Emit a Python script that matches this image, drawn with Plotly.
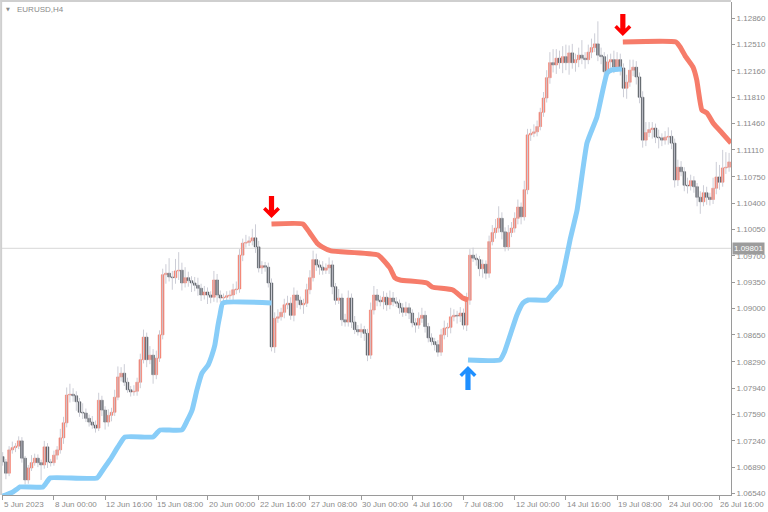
import plotly.graph_objects as go
import pandas as pd
from datetime import datetime

# ---------------- data ----------------
symbol_title = "EURUSD,H4"
first_bar_time = "2023-06-05 08:00"
first_open = 1.0703

closes = [
    1.0696, 1.0681, 1.0712, 1.0715, 1.0717, 1.0724, 1.0701, 1.0672, 1.0688, 1.0695,
    1.0701, 1.0695, 1.0692, 1.0716, 1.0696, 1.0695, 1.0705, 1.0712, 1.0728, 1.0748,
    1.0785, 1.0786, 1.0784, 1.0776, 1.0762, 1.0761, 1.0754, 1.0749, 1.0745, 1.0741,
    1.0778, 1.0765, 1.0749, 1.0758, 1.0762, 1.0782, 1.0809, 1.0814, 1.0802, 1.0792,
    1.0789, 1.0790, 1.0802, 1.0832, 1.0862, 1.0832, 1.0838, 1.0812, 1.0834, 1.0865,
    1.0945, 1.0947, 1.0942, 1.0941, 1.0950, 1.0951, 1.0934, 1.0941, 1.0937, 1.0934,
    1.0931, 1.0927, 1.0918, 1.0922, 1.0918, 1.0915, 1.0938, 1.0918, 1.0914, 1.0915,
    1.0917, 1.0918, 1.0925, 1.0926, 1.0971, 1.0987, 1.0988, 1.0990, 1.0994, 1.0982,
    1.0954, 1.0957, 1.0955, 1.0934, 1.0849, 1.0887, 1.0889, 1.0895, 1.0905, 1.0907,
    1.0891, 1.0918, 1.0911, 1.0905, 1.0907, 1.0925, 1.0941, 1.0965, 1.0958, 1.0955,
    1.0951, 1.0954, 1.0958, 1.0929, 1.0911, 1.0914, 1.0885, 1.0882, 1.0914, 1.0882,
    1.0872, 1.0869, 1.0872, 1.0867, 1.0838, 1.0898, 1.0918, 1.0911, 1.0909, 1.0915,
    1.0905, 1.0914, 1.0909, 1.0907, 1.0901, 1.0895, 1.0901, 1.0894, 1.0881, 1.0878,
    1.0887, 1.0891, 1.0876, 1.0861, 1.0856, 1.0852, 1.0842, 1.0865, 1.0874, 1.0875,
    1.0889, 1.0891, 1.0890, 1.0894, 1.0878, 1.0911, 1.0971, 1.0967, 1.0965, 1.0953,
    1.0959, 1.0947, 1.0989, 1.1001, 1.1007, 1.1020, 1.1002, 1.0982, 1.1001, 1.1007,
    1.1020, 1.1035, 1.1022, 1.1058, 1.1131, 1.1133, 1.1135, 1.1142, 1.1161, 1.1180,
    1.1207, 1.1227, 1.1224, 1.1233, 1.1227, 1.1235, 1.1227, 1.1240, 1.1227, 1.1231,
    1.1237, 1.1233, 1.1231, 1.1241, 1.1247, 1.1252, 1.1237, 1.1235, 1.1215, 1.1228,
    1.1231, 1.1221, 1.1231, 1.1220, 1.1193, 1.1201, 1.1217, 1.1221, 1.1208, 1.1181,
    1.1124, 1.1134, 1.1138, 1.1140, 1.1128, 1.1127, 1.1124, 1.1128, 1.1129, 1.1120,
    1.1071, 1.1088, 1.1082, 1.1064, 1.1063, 1.1070, 1.1062, 1.1048, 1.1042, 1.1054,
    1.1048, 1.1045, 1.1060, 1.1075, 1.1068, 1.1087, 1.1088, 1.1095,
]

# wick lengths above / below the body, in pips
wick_up_pips = [
    6, 4, 5, 8, 4, 6, 5, 3, 4, 10,
    6, 5, 4, 8, 5, 4, 6, 5, 12, 8,
    10, 14, 8, 6, 5, 12, 6, 5, 8, 6,
    10, 6, 5, 8, 6, 10, 14, 8, 12, 6,
    5, 8, 6, 8, 10, 6, 12, 8, 10, 6,
    8, 12, 20, 8, 16, 24, 10, 14, 8, 6,
    8, 10, 6, 8, 6, 5, 12, 8, 6, 5,
    6, 6, 8, 10, 8, 6, 10, 6, 12, 18,
    8, 6, 5, 6, 6, 8, 10, 6, 8, 10,
    8, 10, 6, 5, 6, 8, 10, 12, 8, 6,
    8, 6, 10, 6, 5, 12, 6, 8, 10, 6,
    8, 6, 8, 5, 6, 10, 12, 8, 6, 8,
    6, 10, 8, 6, 5, 6, 8, 6, 5, 6,
    8, 10, 6, 5, 6, 5, 6, 8, 10, 6,
    12, 8, 6, 8, 6, 10, 8, 10, 6, 5,
    6, 5, 8, 10, 12, 16, 8, 6, 10, 8,
    8, 10, 6, 12, 8, 6, 10, 8, 6, 8,
    10, 14, 18, 12, 10, 14, 16, 10, 12, 8,
    10, 20, 8, 10, 12, 14, 30, 10, 6, 10,
    8, 12, 10, 8, 6, 10, 14, 10, 8, 6,
    8, 14, 10, 8, 6, 10, 6, 8, 12, 8,
    6, 10, 8, 6, 10, 8, 6, 5, 8, 10,
    8, 6, 14, 20, 16, 24, 20, 12,
]
wick_dn_pips = [
    5, 8, 4, 5, 6, 4, 6, 6, 5, 4,
    4, 6, 20, 5, 8, 5, 4, 6, 5, 8,
    6, 10, 8, 12, 6, 8, 5, 6, 5, 6,
    4, 8, 10, 6, 8, 5, 4, 6, 5, 4,
    6, 5, 6, 8, 5, 10, 6, 12, 6, 5,
    6, 12, 6, 16, 8, 12, 10, 6, 8, 12,
    8, 10, 8, 6, 12, 8, 6, 10, 6, 5,
    6, 5, 8, 6, 5, 8, 6, 5, 6, 8,
    6, 8, 6, 6, 6, 8, 6, 5, 8, 6,
    6, 8, 10, 6, 12, 5, 6, 5, 8, 10,
    6, 5, 8, 10, 6, 5, 8, 6, 6, 8,
    6, 5, 8, 10, 8, 5, 6, 8, 6, 10,
    8, 6, 6, 5, 8, 6, 5, 8, 6, 10,
    5, 6, 8, 6, 5, 8, 6, 5, 6, 12,
    8, 6, 10, 8, 6, 8, 6, 5, 8, 10,
    12, 8, 6, 5, 8, 6, 10, 6, 5, 6,
    6, 8, 10, 5, 6, 8, 5, 6, 5, 6,
    6, 8, 10, 12, 8, 14, 10, 16, 8, 12,
    10, 8, 12, 6, 8, 6, 8, 10, 16, 8,
    10, 8, 6, 10, 12, 14, 6, 8, 10, 8,
    10, 8, 6, 12, 8, 14, 8, 6, 10, 8,
    10, 8, 6, 8, 10, 6, 8, 12, 16, 6,
    10, 8, 6, 8, 10, 6, 8, 6,
]

# trend-line indicator (support = blue, resistance = red), bar index / price
blue1_bar = [-0.9, 0.1, 3.2, 4.5, 5.4, 12.6, 13.8, 14.8, 29.5, 31.3, 33.5, 36.0, 38.2,
             47.0, 48.2, 49.2, 56.0, 57.6, 59.2, 60.7, 62.3, 64.2, 65.4, 66.3, 67.3,
             67.9, 68.8, 84.0]
blue1_price = [1.06507, 1.06507, 1.06560, 1.06600, 1.06627, 1.06627, 1.06693, 1.06747,
               1.06747, 1.06853, 1.06986, 1.07159, 1.07292, 1.07292, 1.07345, 1.07385,
               1.07385, 1.07505, 1.07651, 1.07917, 1.08143, 1.08250, 1.08383, 1.08516,
               1.08782, 1.08915, 1.09074, 1.09074]

red1_bar = [84.0, 93.8, 96.0, 98.2, 99.8, 102.6, 117.3, 121.0, 122.6, 124.2, 132.6,
            134.2, 140.7, 143.8, 145.4]
red1_price = [1.10125, 1.10125, 1.10005, 1.09872, 1.09819, 1.09766, 1.09713, 1.09540,
              1.09407, 1.09380, 1.09340, 1.09287, 1.09247, 1.09140, 1.09114]

blue2_bar = [145.4, 155.4, 156.8, 158.8, 160.7, 162.6, 164.2, 170.1, 172.0, 174.2,
             175.7, 177.3, 179.5, 182.6, 185.7, 188.9, 190.4, 193.5]
blue2_price = [1.08316, 1.08316, 1.08422, 1.08675, 1.08915, 1.09074, 1.09114, 1.09114,
               1.09207, 1.09314, 1.09579, 1.09912, 1.10311, 1.11202, 1.11548, 1.12133,
               1.12173, 1.12186]

red2_bar = [193.8, 210.4, 211.7, 213.5, 215.7, 216.9, 218.5, 220.1, 222.0, 224.8, 227.6]
red2_price = [1.12545, 1.12545, 1.12479, 1.12346, 1.12213, 1.12040, 1.11641, 1.11601,
              1.11468, 1.11335, 1.11202]

ytick_labels = ["1.12860", "1.12510", "1.12160", "1.11810", "1.11460", "1.11110",
                "1.10750", "1.10400", "1.10050", "1.09700", "1.09350", "1.09000",
                "1.08650", "1.08290", "1.07940", "1.07590", "1.07240", "1.06890",
                "1.06540"]
xtick_labels = ["5 Jun 2023", "8 Jun 00:00", "12 Jun 16:00", "15 Jun 08:00",
                "20 Jun 00:00", "22 Jun 16:00", "27 Jun 08:00", "30 Jun 00:00",
                "4 Jul 16:00", "7 Jul 08:00", "12 Jul 00:00", "14 Jul 16:00",
                "19 Jul 08:00", "24 Jul 00:00", "26 Jul 16:00"]
marked_price = 1.09801

# ---------------- derived ----------------
n = len(closes)
opens = [first_open] + closes[:-1]
highs = [max(o, c) + u * 0.0001 for o, c, u in zip(opens, closes, wick_up_pips)]
lows = [min(o, c) - d * 0.0001 for o, c, d in zip(opens, closes, wick_dn_pips)]

# H4 bar times on weekdays
all_times = pd.date_range(first_bar_time, periods=n * 3, freq="4h")
bar_times = [t for t in all_times if t.weekday() < 5][:n]
time_index = {t.to_pydatetime(): i for i, t in enumerate(bar_times)}
xtick_pos = []
for lab in xtick_labels:
    if ":" in lab:
        t = datetime.strptime(lab + " 2023", "%d %b %H:%M %Y")
        xtick_pos.append(time_index[t])
    else:
        xtick_pos.append(0)

x = list(range(n))

BULL = "#f27a69"
BEAR = "#545960"
WICK = "#cccdd6"
RED_LINE = "#f67c6a"
BLUE_LINE = "#88cdf8"
AXIS = "#9a9a9a"
TXT = "#8a8a8a"
FONT = "Liberation Sans, Arial, sans-serif"

fig = go.Figure()

# wicks
wx, wy = [], []
for i in x:
    wx += [i, i, None]
    wy += [lows[i], highs[i], None]
fig.add_trace(go.Scatter(x=wx, y=wy, mode="lines",
                         line=dict(color=WICK, width=1), hoverinfo="skip",
                         showlegend=False))

# bodies
body_base = [min(o, c) for o, c in zip(opens, closes)]
body_len = [abs(c - o) for o, c in zip(opens, closes)]
body_col = [BULL if c >= o else BEAR for o, c in zip(opens, closes)]
fig.add_trace(go.Bar(x=x, y=body_len, base=body_base, width=0.82,
                     marker=dict(color=body_col, line=dict(color=body_col, width=0.6)),
                     hoverinfo="skip", showlegend=False))

# indicator lines
for bx, by, col in [(blue1_bar, blue1_price, BLUE_LINE), (red1_bar, red1_price, RED_LINE),
                    (blue2_bar, blue2_price, BLUE_LINE), (red2_bar, red2_price, RED_LINE)]:
    fig.add_trace(go.Scatter(x=bx, y=by, mode="lines",
                             line=dict(color=col, width=5, shape="spline", smoothing=0.4),
                             hoverinfo="skip", showlegend=False))

# signal arrows (bold arrow glyph, pixel-sized, anchored at the start of each line)
DOWN_ARROW = "M0,6 L8.5,14.5 L6,17 L2.6,13.6 L2.6,28 L-2.6,28 L-2.6,13.6 L-6,17 L-8.5,14.5 Z"
UP_ARROW = "M0,-6 L8.5,-14.5 L6,-17 L2.6,-13.6 L2.6,-30 L-2.6,-30 L-2.6,-13.6 L-6,-17 L-8.5,-14.5 Z"
shapes = []
for bx, by, col, path in [(red1_bar[0], red1_price[0], "#ff0000", DOWN_ARROW),
                          (blue2_bar[0], blue2_price[0], "#1e8fff", UP_ARROW),
                          (red2_bar[0], red2_price[0], "#ff0000", DOWN_ARROW)]:
    shapes.append(dict(type="path", xref="x", yref="y", xsizemode="pixel",
                       ysizemode="pixel", xanchor=bx, yanchor=by, path=path,
                       fillcolor=col, line=dict(width=0)))

annotations = []
# x tick labels (left-aligned after tick, MT4 style)
for pos, lab in zip(xtick_pos, xtick_labels):
    annotations.append(dict(x=pos, y=0, xref="x", yref="paper", text=lab,
                            showarrow=False, xanchor="left", yanchor="top",
                            xshift=-1, yshift=-3,
                            font=dict(family=FONT, size=8, color=TXT)))

# marked price label
annotations.append(dict(x=1, y=marked_price, xref="paper", yref="y",
                        text="1.09801", showarrow=False, xanchor="left",
                        yanchor="middle", bgcolor="#9c9c9c", borderpad=1, xshift=1,
                        font=dict(family=FONT, size=8, color="#ffffff")))
# title
annotations.append(dict(x=0.0175, y=1, xref="paper", yref="paper", text=symbol_title,
                        showarrow=False, xanchor="left", yanchor="middle", yshift=-7,
                        font=dict(family=FONT, size=8, color=TXT)))
annotations.append(dict(x=0.003, y=1, xref="paper", yref="paper", text="▼",
                        showarrow=False, xanchor="left", yanchor="middle", yshift=-7,
                        font=dict(family="DejaVu Sans", size=5, color=TXT)))

shapes += [
    dict(type="line", xref="paper", yref="y", x0=0, x1=1, y0=marked_price, y1=marked_price,
         line=dict(color="#d8d8d8", width=1), layer="below"),
    dict(type="line", xref="paper", yref="paper", x0=-0.0012, x1=-0.0012, y0=0, y1=1.004,
         line=dict(color="#cfcfcf", width=2)),
    dict(type="line", xref="paper", yref="paper", x0=-0.002, x1=1, y0=1.002, y1=1.002,
         line=dict(color="#cfcfcf", width=2)),
]

fig.update_layout(
    width=768, height=512,
    margin=dict(l=2, r=37, t=2, b=17),
    paper_bgcolor="#ffffff", plot_bgcolor="#ffffff",
    showlegend=False, bargap=0, barmode="overlay",
    annotations=annotations, shapes=shapes,
    xaxis=dict(range=[-0.22, 227.6], showgrid=False, zeroline=False,
               showline=True, linecolor=AXIS, linewidth=1,
               ticks="outside", ticklen=4, tickcolor=AXIS,
               tickvals=xtick_pos, showticklabels=False, fixedrange=True),
    yaxis=dict(range=[1.06520, 1.13077], side="right", showgrid=False, zeroline=False,
               showline=True, linecolor=AXIS, linewidth=1,
               ticks="outside", ticklen=3, tickcolor=AXIS,
               tickvals=[float(v) for v in ytick_labels], ticktext=ytick_labels,
               tickfont=dict(family=FONT, size=8, color=TXT),
               fixedrange=True),
)

fig.write_html(
    "out.html",
    config={"displayModeBar": False, "staticPlot": True},
    post_script="document.body.style.margin='0';document.body.style.overflow='hidden';",
)
